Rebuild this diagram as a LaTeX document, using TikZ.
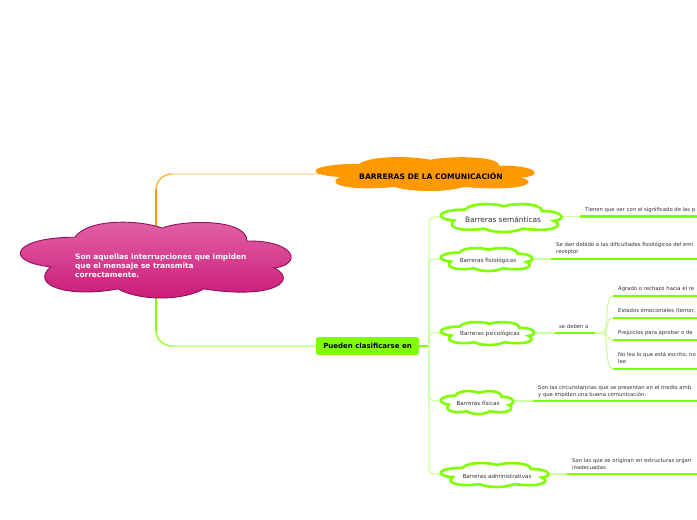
\documentclass[tikz,border=0pt]{standalone}
\usepackage{fontspec}
\setmainfont{DejaVu Sans}
\definecolor{lime}{HTML}{80FF00}
\definecolor{palelime}{HTML}{CCFFA0}
\definecolor{orng}{HTML}{FF9900}
\definecolor{paleorng}{HTML}{FFE3B8}
\definecolor{rosetop}{HTML}{E264A6}
\definecolor{rosebot}{HTML}{CB1878}
\definecolor{roseedge}{HTML}{8E0F5A}
\definecolor{txt}{HTML}{333333}
\newcommand{\mycloud}[5]{%
 \path[#5,shift={(#1,#2)},x=#3pt,y=-#4pt]
 (.20,.20) .. controls (.25,-.05) and (.44,-.03) .. (.525,.08)
 .. controls (.60,-.03) and (.84,-.05) .. (.84,.25)
 .. controls (1.02,.24) and (1.05,.56) .. (.94,.605)
 .. controls (1.03,.75) and (.95,1.03) .. (.68,.88)
 .. controls (.60,1.04) and (.44,1.04) .. (.36,.88)
 .. controls (.18,1.0) and (.03,.84) .. (.11,.59)
 .. controls (-.07,.52) and (-.03,.20) .. (.20,.20) -- cycle;}
\tikzset{
 lab/.style={inner sep=0pt,text=txt,align=left,anchor=west,font=\fontsize{5.3}{6.8}\selectfont},
 cloudlab/.style={inner sep=0pt,text=txt,anchor=center,font=\fontsize{5.6}{6.5}\selectfont},
 whitecloud/.style={draw=lime,line width=2.6pt,fill=white},
 orangecloud/.style={fill=orng},
 rosecloud/.style={draw=roseedge,line width=.9pt,top color=rosetop,bottom color=rosebot},
 pale/.style={draw=palelime,line width=1.2pt},
 thick line/.style={draw=lime,line width=2.8pt}
}
\begin{document}
\begin{tikzpicture}[x=1pt,y=-1pt]
\useasboundingbox (0,0) rectangle (697,520);
\fill[white] (0,0) rectangle (697,520);
\begin{scope}
\clip (0,0) rectangle (697,520);
\coordinate (rootc) at (156,260);
\coordinate (otop) at (156,190);
\coordinate (ocorner) at (172,174);
\coordinate (gbot) at (156,330);
\coordinate (gcorner) at (172,346);
\coordinate (oend) at (320,174);
\coordinate (gend) at (320,346);
\coordinate (trunk) at (429,346);
% root links
\draw[paleorng,line width=1.4pt] (ocorner) -- (oend);
\draw[orng!60!paleorng,line width=1.5pt] (otop) .. controls (156,181) and (163,174) .. (ocorner);
\draw[orng,line width=2pt] (rootc) -- (otop);
\draw[palelime,line width=1.4pt] (gcorner) -- (gend);
\draw[lime!70!palelime,line width=1.5pt] (gbot) .. controls (156,339) and (163,346) .. (gcorner);
\draw[lime,line width=2pt] (rootc) -- (gbot);
% trunk
\draw[lime,line width=1.8pt] (366,346) -- (trunk);
\coordinate (c1) at (445,217);
\coordinate (c2) at (445,259);
\coordinate (c3) at (445,333);
\coordinate (c4) at (445,401);
\coordinate (c5) at (445,474);
\foreach \c in {c1,c2,c3,c4,c5}{\draw[pale,rounded corners=5pt] (trunk) |- (\c);}
% branch lines
\coordinate (e1) at (697,216.5);
\coordinate (e2) at (697,259);
\coordinate (e4) at (697,401);
\coordinate (e5) at (697,474);
\coordinate (s1) at (580,216.5);
\coordinate (s2) at (551,259);
\coordinate (s4) at (533,401);
\coordinate (s5) at (567,474);
\draw[pale] (530,216.5) -- (s1);
\draw[pale] (510,259) -- (s2);
\draw[pale] (490,401) -- (s4);
\draw[pale] (520,474) -- (s5);
\draw[pale] (510,333) -- (555,333);
\draw[thick line] (s1) -- (e1);
\draw[thick line] (s2) -- (e2);
\draw[thick line] (s4) -- (e4);
\draw[thick line] (s5) -- (e5);
\coordinate (dA) at (555,333);
\coordinate (dB) at (595,333);
\coordinate (dC) at (603,333);
\draw[thick line] (dA) -- (dB);
\draw[pale] (dB) -- (dC);
\draw[pale] (dC) .. controls (609,333) and (604,296) .. (613,296);
\draw[pale] (dC) .. controls (609,333) and (605,318) .. (613,318);
\draw[pale] (dC) .. controls (609,333) and (606,340) .. (613,340);
\draw[pale] (dC) .. controls (609,333) and (604,369) .. (613,369);
\draw[thick line] (613,296) -- (697,296);
\draw[thick line] (613,318) -- (697,318);
\draw[thick line] (613,340) -- (697,340);
\draw[thick line] (613,369) -- (697,369);
% clouds
\mycloud{21}{222}{269}{76}{rosecloud}
\mycloud{316}{157}{218}{34}{orangecloud}
\mycloud{441}{204}{120}{28}{whitecloud}
\mycloud{441}{248}{91}{23}{whitecloud}
\mycloud{441}{322}{93}{23}{whitecloud}
\mycloud{441}{391}{72}{23}{whitecloud}
\mycloud{441}{463}{107}{24}{whitecloud}
% box
\node[fill=lime,rounded corners=2.5pt,minimum width=103pt,minimum height=18pt,inner sep=0pt,
 font=\bfseries\fontsize{7}{8}\selectfont,text=black] (pueden) at (367.5,346) {Pueden clasificarse en};
% labels
\node[inner sep=0pt,anchor=west,align=left,text=white,font=\bfseries\fontsize{7.4}{9.2}\selectfont] (root) at (75,265.5)
 {Son aquellas interrupciones que impiden\\que el mensaje se transmita\\correctamente.};
\node[inner sep=0pt,anchor=center,text=black,font=\bfseries\fontsize{7.6}{8}\selectfont] (top) at (431,176) {BARRERAS DE LA COMUNICACIÓN};
\node[cloudlab,font=\fontsize{7.4}{8}\selectfont] (sem) at (503,219.5) {Barreras semánticas};
\node[cloudlab] (fis) at (488,261) {Barreras fisiológicas};
\node[cloudlab] (psi) at (490,334) {Barreras psicológicas};
\node[cloudlab] (fit) at (478,403) {Barreras físicas};
\node[cloudlab] (adm) at (497,476) {Barreras administrativas};
\node[lab] (t1) at (585,210.5) {Tienen que ver con el significado de las p};
\node[lab,anchor=north west] (t2) at (556,242) {Se dan debido a las dificultades fisiológicos del emi\\receptor};
\node[lab] (t3) at (559,326.5) {se deben a};
\node[lab] (p1) at (618,289) {Agrado o rechazo hacia el re};
\node[lab] (p2) at (618,311) {Estados emocionales (temor,};
\node[lab] (p3) at (618,333) {Prejuicios para aprobar o de};
\node[lab,anchor=north west] (p4) at (618,352) {No lea lo que está escrito, no\\lee};
\node[lab,anchor=north west] (t4) at (538,385) {Son las circunstancias que se presentan en el medio amb\\y que impiden una buena comunicación.};
\node[lab,anchor=north west] (t5) at (572,458) {Son las que se originan en estructuras organ\\inadecuadas};
\end{scope}
\end{tikzpicture}
\end{document}
